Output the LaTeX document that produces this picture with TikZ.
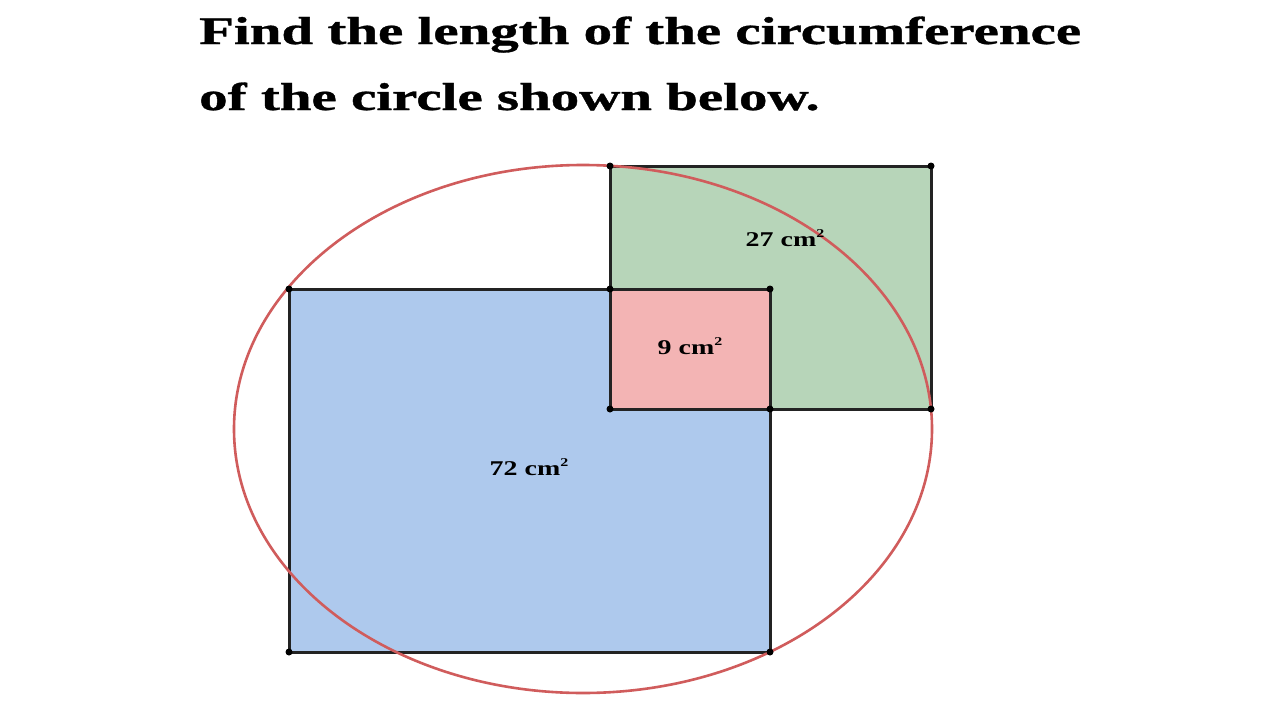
\documentclass[tikz,border=0pt]{standalone}
\usepackage{fontspec}
\setmainfont{Liberation Serif}
\newfontfamily\titlefont[FakeBold=0.8]{Liberation Serif Bold}
\definecolor{bluefill}{RGB}{174,201,237}
\definecolor{greenfill}{RGB}{183,213,185}
\definecolor{pinkfill}{RGB}{243,180,180}
\definecolor{ringred}{RGB}{208,92,92}
\definecolor{edge}{RGB}{35,35,35}
\newcommand{\sqcm}{cm\raisebox{0.42em}{\fontsize{12}{12}\selectfont 2}}
\tikzset{
  sq/.style={draw=edge, line width=3pt},
  dotpt/.style={circle, fill=black, inner sep=0pt, minimum size=7pt},
  area/.style={font=\bfseries\fontsize{21}{21}\selectfont, inner sep=0pt},
  titletext/.style={font=\titlefont\fontsize{39}{39}\selectfont, anchor=base west, inner sep=0pt}
}
\begin{document}
\begin{tikzpicture}[x=1pt,y=-1pt]
\useasboundingbox (0,0) rectangle (1280,720);
\fill[white] (0,0) rectangle (1280,720);
\node[titletext] (t1) at (199,44) {\scalebox{1.46}[1]{Find the length of the circumference}};
\node[titletext] (t2) at (199,110) {\scalebox{1.46}[1]{of the circle shown below.}};
% squares
\filldraw[sq, fill=bluefill] (289,289) rectangle (770,652);
\filldraw[sq, fill=greenfill] (610,166) rectangle (931,409);
\filldraw[sq, fill=pinkfill] (610,289) rectangle (770,409);
% circle
\draw[ringred, line width=2.6pt] (583,429) ellipse [x radius=349, y radius=264];
% labels
\node[area] (l27) at (785,238) {\scalebox{1.33}[1]{27 \sqcm}};
\node[area] (l9) at (690,346) {\scalebox{1.33}[1]{9 \sqcm}};
\node[area] (l72) at (529,467) {\scalebox{1.33}[1]{72 \sqcm}};
% dots
\foreach \p in {(289,289),(610,289),(770,289),(610,166),(931,166),(610,409),(770,409),(931,409),(289,652),(770,652)}
  \node[dotpt] at \p {};
\end{tikzpicture}
\end{document}
